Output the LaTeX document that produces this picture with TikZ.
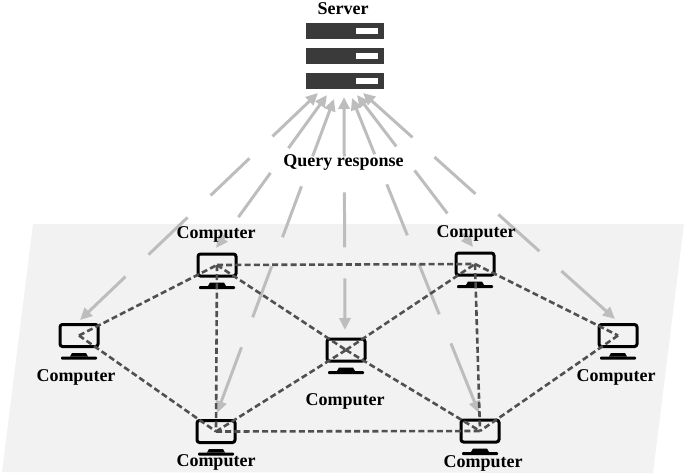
\documentclass[tikz,border=0pt]{standalone}
\usepackage{fontspec}
\setmainfont{Liberation Serif}
\usetikzlibrary{arrows.meta}
\definecolor{floorgray}{HTML}{F2F2F2}
\definecolor{querygray}{HTML}{BDBDBD}
\definecolor{linkgray}{HTML}{505050}
\definecolor{rackgray}{HTML}{3A3A3A}
\tikzset{
  screen/.style={draw=black, line width=3, rounded corners=2.5, inner sep=0, minimum width=38, minimum height=22},
  link/.style={draw=linkgray, line width=2.6, dash pattern=on 6 off 3.2},
  query/.style={draw=querygray, line width=3, {Triangle[length=12,width=11]}-{Triangle[length=12,width=11]}},
  tag/.style={inner sep=0, font=\fontsize{18}{20}\selectfont\bfseries},
}
\begin{document}
\begin{tikzpicture}[x=1pt,y=-1pt]
\useasboundingbox (0,0) rectangle (685,475);
\fill [floorgray] (33,224) -- (684,224) -- (653,473) -- (2,472) -- cycle;
\node [tag] (server) at (343,9) {Server};
\foreach \rack/\y in {rack1/23, rack2/48, rack3/73} {
  \node [fill=rackgray, inner sep=0, minimum width=78, minimum height=16, anchor=north west] (\rack) at (306,\y) {};
  \fill [white] ([shift={(50,5)}]\rack.north west) rectangle ([shift={(72,11)}]\rack.north west);
}
\foreach \pc/\x/\y in {pcleft/79/335.5, pctopl/217/265, pcbotl/216/431.5, pcmid/346/350, pctopr/475/264, pcright/618/335.5, pcbotr/480/431} {
  \node [screen] (\pc) at (\x,\y) {};
  \fill ([shift={(-9,21)}]\pc.center) -- ([shift={(-7,17.5)}]\pc.center) -- ([shift={(7,17.5)}]\pc.center) -- ([shift={(9,21)}]\pc.center) -- cycle;
  \fill [rounded corners=1] ([shift={(-18,21)}]\pc.center) rectangle ([shift={(18,24)}]\pc.center);
}
\coordinate (srv1) at (318,93);
\coordinate (srv2) at (327,95);
\coordinate (srv3) at (334,99);
\coordinate (srv4) at (344,97);
\coordinate (srv5) at (352,98);
\coordinate (srv6) at (357,95);
\coordinate (srv7) at (363,93);
\coordinate (tipleft) at (80,320);
\coordinate (tiptopl) at (216,248);
\coordinate (tipbotl) at (217,413);
\coordinate (tipmid) at (345,330);
\coordinate (tipbotr) at (479,413);
\coordinate (tiptopr) at (473,247);
\coordinate (tipright) at (615,319);
\draw [query, dash pattern=on 51.6 off 31.8 on 53.8 off 31.8 on 53.9 off 31.8 on 100 off 0] (srv1) -- (tipleft);
\draw [query, dash pattern=on 54.4 off 30.6 on 54.6 off 20.4 on 100 off 0] (srv2) -- (tiptopl);
\draw [query, dash pattern=on 49.9 off 32 on 54.4 off 31 on 54.4 off 32 on 100 off 0] (srv3) -- (tipbotl);
\draw [query, dash pattern=on 48 off 36 on 55 off 31 on 100 off 0] (srv4) -- (tipmid);
\draw [query, dash pattern=on 49.4 off 32.4 on 55 off 31.2 on 54 off 31.3 on 100 off 0] (srv5) -- (tipbotr);
\draw [query, dash pattern=on 53.4 off 30.2 on 54.1 off 26 on 100 off 0] (srv6) -- (tiptopr);
\draw [query, dash pattern=on 55.2 off 29.5 on 55.1 off 30.8 on 55.1 off 29.6 on 100 off 0] (srv7) -- (tipright);
\draw [link] (pcleft.center) -- (pctopl.center);
\draw [link] (pcleft.center) -- (pcbotl.center);
\draw [link] (pctopl.center) -- (pcbotl.center);
\draw [link] (pctopl.center) -- (pcmid.center);
\draw [link] (pctopl.center) -- (pctopr.center);
\draw [link] (pcbotl.center) -- (pcmid.center);
\draw [link] (pcbotl.center) -- (pcbotr.center);
\draw [link] (pcmid.center) -- (pctopr.center);
\draw [link] (pcmid.center) -- (pcbotr.center);
\draw [link] (pctopr.center) -- (pcbotr.center);
\draw [link] (pctopr.center) -- (pcright.center);
\draw [link] (pcright.center) -- (pcbotr.center);
\node [tag] (query) at (343.5,162.5) {Query response};
\node [tag] (nameleft) at (76,377.5) {Computer};
\node [tag] (nametopl) at (216,234.5) {Computer};
\node [tag] (namebotl) at (216,462.5) {Computer};
\node [tag] (namemid) at (345,401.5) {Computer};
\node [tag] (nametopr) at (476,233.5) {Computer};
\node [tag] (nameright) at (616,377.5) {Computer};
\node [tag] (namebotr) at (483,463.5) {Computer};
\end{tikzpicture}
\end{document}
